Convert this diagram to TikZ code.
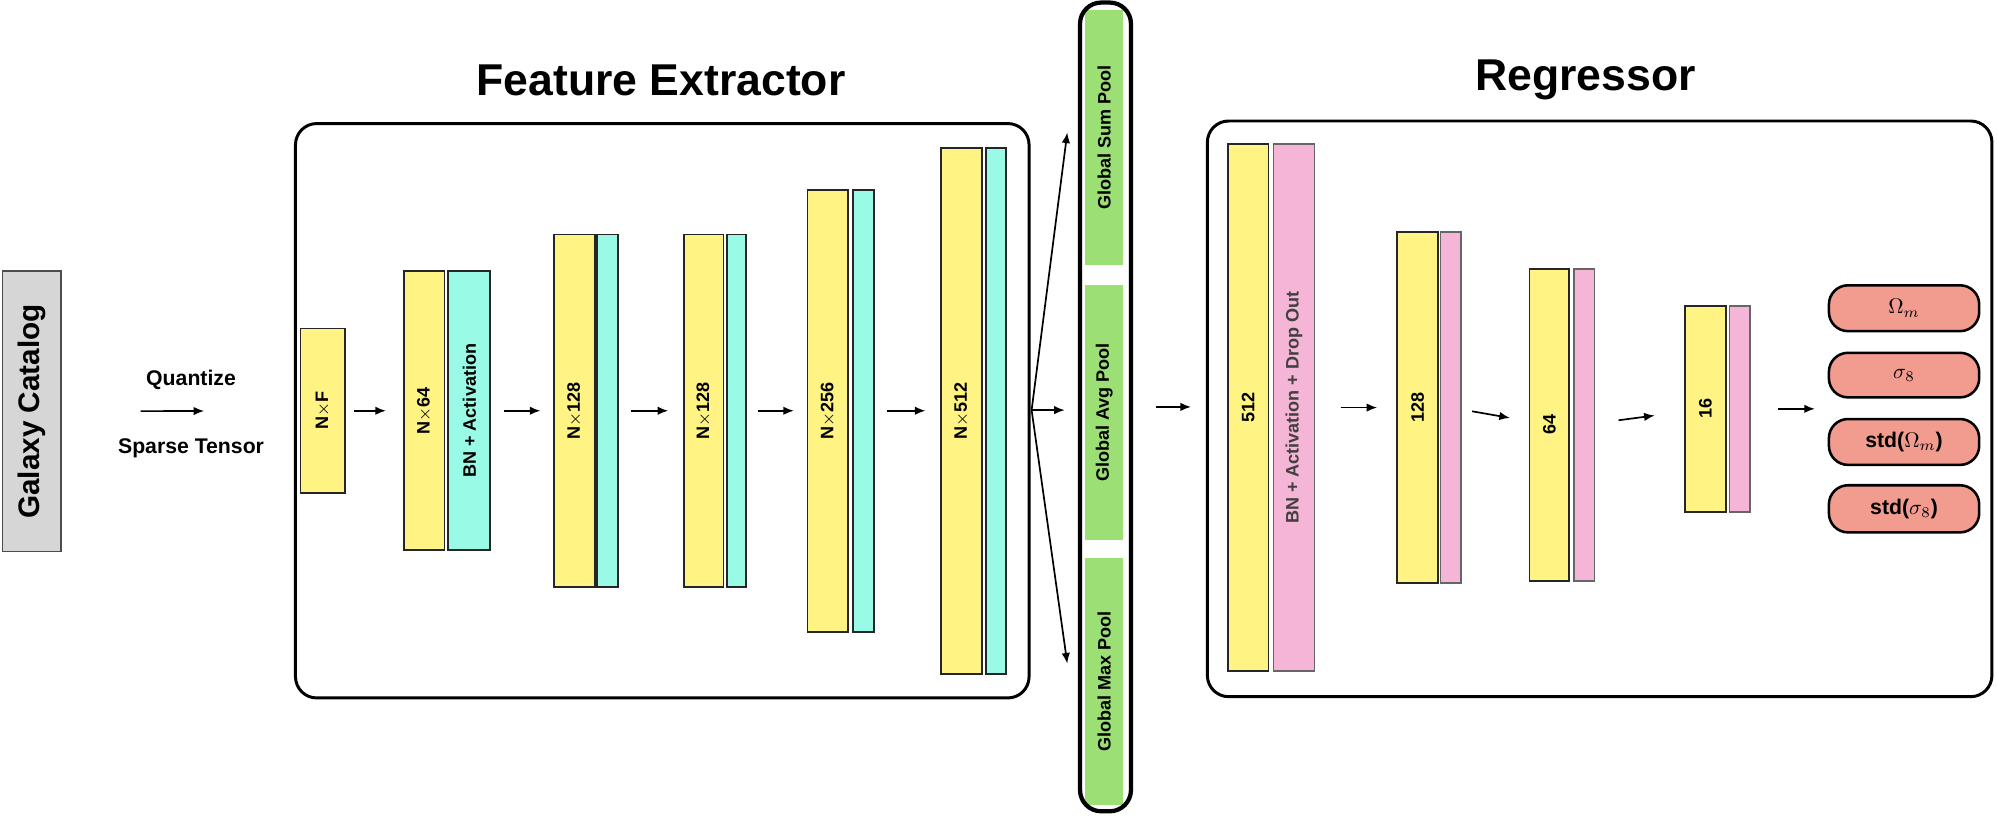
\documentclass[tikz,border=0pt]{standalone}
\usepackage{fontspec}
\setmainfont{Liberation Sans}
\usetikzlibrary{fit,arrows.meta}

\definecolor{layeryellow}{HTML}{FEF383}
\definecolor{normcyan}{HTML}{99FBE5}
\definecolor{droppink}{HTML}{F5B5D6}
\definecolor{poolgreen}{HTML}{9BDF75}
\definecolor{outsalmon}{HTML}{F29B8F}
\definecolor{catgray}{HTML}{D6D6D6}

\tikzset{
  blk/.style={inner sep=0pt, draw, line width=0.8pt},
  lay/.style={blk, fill=layeryellow, draw=black!85},
  bn/.style={blk, fill=normcyan, draw=black!85},
  dro/.style={blk, fill=droppink, draw=black!60},
  pool/.style={inner sep=0pt, fill=poolgreen},
  outp/.style={draw, line width=1.2pt, fill=outsalmon, rounded corners=9pt,
    inner sep=0pt, font=\fontsize{10}{12}\selectfont\bfseries},
  frame/.style={draw, line width=1.4pt, rounded corners=10pt, inner sep=0pt},
  conn/.style={-{Latex[length=5pt,width=4pt]}, line width=0.8pt},
  lbl/.style={font=\fontsize{8.5}{10}\selectfont\bfseries},
  ttl/.style={font=\fontsize{21}{24}\selectfont\bfseries}
}
\newcommand{\blkrect}[6]{\node[#1, fit={(#3,#4)(#5,#6)}] (#2) {};}
\newcommand{\vtext}[2]{\node[lbl, rotate=90] at (#1) {#2};}

\begin{document}
\begin{tikzpicture}[x=0.6pt,y=-0.6pt]
  \useasboundingbox (0,0) rectangle (1568,641);

  % input
  \blkrect{blk, fill=catgray, draw=black!70}{cat}{2}{213}{48}{433}
  \node[rotate=90, font=\fontsize{14}{16}\selectfont\bfseries] at (cat) {Galaxy Catalog};
  \node[font=\fontsize{10}{12}\selectfont\bfseries] (quant) at (150,298) {Quantize};
  \node[font=\fontsize{10}{12}\selectfont\bfseries] (sparse) at (150,352) {Sparse Tensor};

  % feature extractor
  \node[ttl] (fetitle) at (519,63) {Feature Extractor};
  \blkrect{frame}{febox}{232}{97}{808}{548}
  \blkrect{lay}{f0}{236}{258}{271}{387}
  \blkrect{lay}{f1}{317}{213}{349}{432}
  \blkrect{bn}{f1n}{352}{213}{385}{432}
  \blkrect{lay}{f2}{435}{184}{467}{461}
  \blkrect{bn}{f2n}{469}{184}{485}{461}
  \blkrect{lay}{f3}{537}{184}{568}{461}
  \blkrect{bn}{f3n}{571}{184}{586}{461}
  \blkrect{lay}{f4}{634}{149}{666}{496}
  \blkrect{bn}{f4n}{670}{149}{686}{496}
  \blkrect{lay}{f5}{739}{116}{771}{529}
  \blkrect{bn}{f5n}{774}{116}{790}{529}
  \vtext{f0}{N$\times$F}
  \vtext{f1}{N$\times$64}
  \vtext{f1n}{BN + Activation}
  \vtext{f2}{N$\times$128}
  \vtext{f3}{N$\times$128}
  \vtext{f4}{N$\times$256}
  \vtext{f5}{N$\times$512}

  % pooling
  \blkrect{pool}{psum}{852}{8}{882}{208}
  \blkrect{pool}{pavg}{852}{224}{882}{424}
  \blkrect{pool}{pmax}{852}{438}{882}{632}
  \blkrect{frame, line width=2pt}{poolbox}{848}{2}{888}{637}
  \vtext{psum}{Global Sum Pool}
  \vtext{pavg}{Global Avg Pool}
  \vtext{pmax}{Global Max Pool}
  \coordinate (fan) at (810,322);
  \coordinate (tosum) at (838,104);
  \coordinate (toavg) at (836,322);
  \coordinate (tomax) at (838,521);

  % regressor
  \node[ttl] (rgtitle) at (1245,63) {Regressor};
  \blkrect{frame}{rgbox}{948}{95}{1564}{547}
  \blkrect{lay}{r0}{964}{113}{996}{527}
  \blkrect{dro}{r0n}{1000}{113}{1032}{527}
  \blkrect{lay}{r1}{1097}{182}{1129}{458}
  \blkrect{dro}{r1n}{1131}{182}{1147}{458}
  \blkrect{lay}{r2}{1201}{211}{1232}{456}
  \blkrect{dro}{r2n}{1236}{211}{1252}{456}
  \blkrect{lay}{r3}{1323}{240}{1355}{402}
  \blkrect{dro}{r3n}{1358}{240}{1374}{402}
  \vtext{r0}{512}
  \node[lbl, rotate=90, text=black!75] at (r0n) {BN + Activation + Drop Out};
  \vtext{r1}{128}
  \vtext{r2}{64}
  \vtext{r3}{16}

  % outputs
  \blkrect{outp}{om}{1436}{224}{1554}{260}
  \blkrect{outp}{s8}{1436}{277}{1554}{312}
  \blkrect{outp}{som}{1436}{329}{1554}{365}
  \blkrect{outp}{ss8}{1436}{381}{1554}{418}
  \node[outp, draw=none, fill=none] at (om) {$\Omega_m$};
  \node[outp, draw=none, fill=none] at (s8) {$\sigma_8$};
  \node[outp, draw=none, fill=none] at (som) {std($\Omega_m$)};
  \node[outp, draw=none, fill=none] at (ss8) {std($\sigma_8$)};

  % connectors
  \draw[conn, shorten <=37pt, shorten >=45pt] (cat) -- (f0);
  \draw[conn, shorten <=4pt, shorten >=8pt] (f0) -- (f1);
  \draw[conn, shorten <=6pt, shorten >=6pt] (f1n) -- (f2);
  \draw[conn, shorten <=6pt, shorten >=7pt] (f2n) -- (f3);
  \draw[conn, shorten <=5pt, shorten >=6pt] (f3n) -- (f4);
  \draw[conn, shorten <=6pt, shorten >=7pt] (f4n) -- (f5);
  \draw[line width=0.8pt, shorten <=12pt] (f5n) -- (fan);
  \draw[conn] (fan) -- (tosum);
  \draw[conn] (fan) -- (toavg);
  \draw[conn] (fan) -- (tomax);
  \draw[conn, shorten <=11pt, shorten >=7pt] (poolbox) -- (rgbox.west |- poolbox);
  \draw[conn, shorten <=12pt, shorten >=9pt] (r0n) -- (r1);
  \draw[conn, shorten <=5pt, shorten >=9pt] (r1n) -- (r2);
  \draw[conn, shorten <=11pt, shorten >=14pt] (r2n) -- (r3);
  \draw[conn, shorten <=13pt, shorten >=6pt] (r3n) -- (r3n -| s8.west);
\end{tikzpicture}
\end{document}
